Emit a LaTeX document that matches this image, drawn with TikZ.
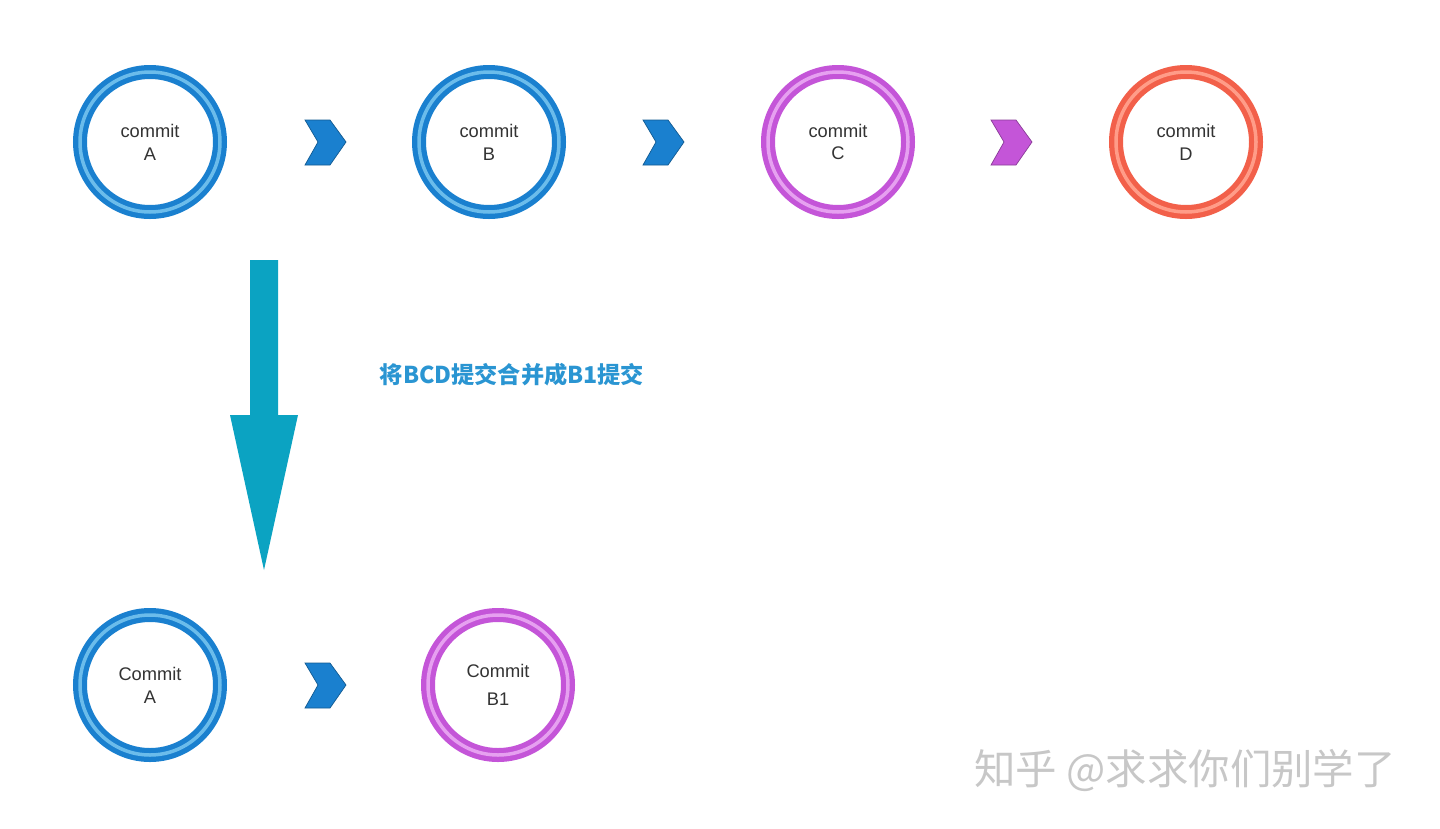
\documentclass[tikz,border=0pt]{standalone}
\usepackage{fontspec}
\setmainfont{Liberation Sans}
\newfontfamily\cjk{Noto Sans CJK SC}
\definecolor{bl}{HTML}{1A80CF}\definecolor{bll}{HTML}{6BBCEB}
\definecolor{pu}{HTML}{C455D8}\definecolor{pul}{HTML}{E6A0F0}
\definecolor{rd}{HTML}{F2604A}\definecolor{rdl}{HTML}{FF9C88}
\definecolor{teal}{HTML}{0BA3C2}
\definecolor{lbl}{HTML}{2A95D2}
\tikzset{
 ring/.style n args={2}{circle,minimum size=1.4cm,draw=#1,line width=0.14cm,
   fill=white,align=center,font=\fontsize{5.2pt}{6.5pt}\selectfont,text=black!80,
   postaction={draw=#2,line width=0.035cm}},
}
\newcommand{\chev}[3]{\fill[#3,draw=#3!70!black,line width=0.2pt] (#1-0.2,#2+0.22)--(#1+0.05,#2+0.22)--(#1+0.21,#2)--(#1+0.05,#2-0.23)--(#1-0.2,#2-0.23)--(#1-0.07,#2)--cycle;}
\begin{document}
\begin{tikzpicture}
\useasboundingbox (0,0) rectangle (14.4,-8.28);
\node[ring={bl}{bll}] (a) at (1.50,-1.42) {commit\\A};
\node[ring={bl}{bll}] (b) at (4.89,-1.42) {commit\\B};
\node[ring={pu}{pul}] (c) at (8.38,-1.42) {commit\\C};
\node[ring={rd}{rdl}] (d) at (11.86,-1.42) {commit\\D};
\node[ring={bl}{bll}] (a2) at (1.50,-6.85) {Commit\\A};
\node[ring={pu}{pul}] (b1) at (4.98,-6.85) {Commit\\[0.6ex]B1};
\chev{3.25}{-1.42}{bl}
\chev{6.63}{-1.42}{bl}
\chev{10.11}{-1.42}{pu}
\chev{3.25}{-6.85}{bl}
\fill[teal] (2.50,-2.60)--(2.78,-2.60)--(2.78,-4.15)--(2.98,-4.15)--(2.64,-5.70)--(2.30,-4.15)--(2.50,-4.15)--cycle;
\node[text=lbl,font=\cjk\bfseries\fontsize{6.6pt}{7pt}\selectfont] (t) at (5.12,-3.75) {将BCD提交合并成B1提交};
\node[text=black!22,font=\cjk\fontsize{11.8pt}{12pt}\selectfont] (w) at (11.85,-7.70) {知乎 @求求你们别学了};
\end{tikzpicture}
\end{document}
